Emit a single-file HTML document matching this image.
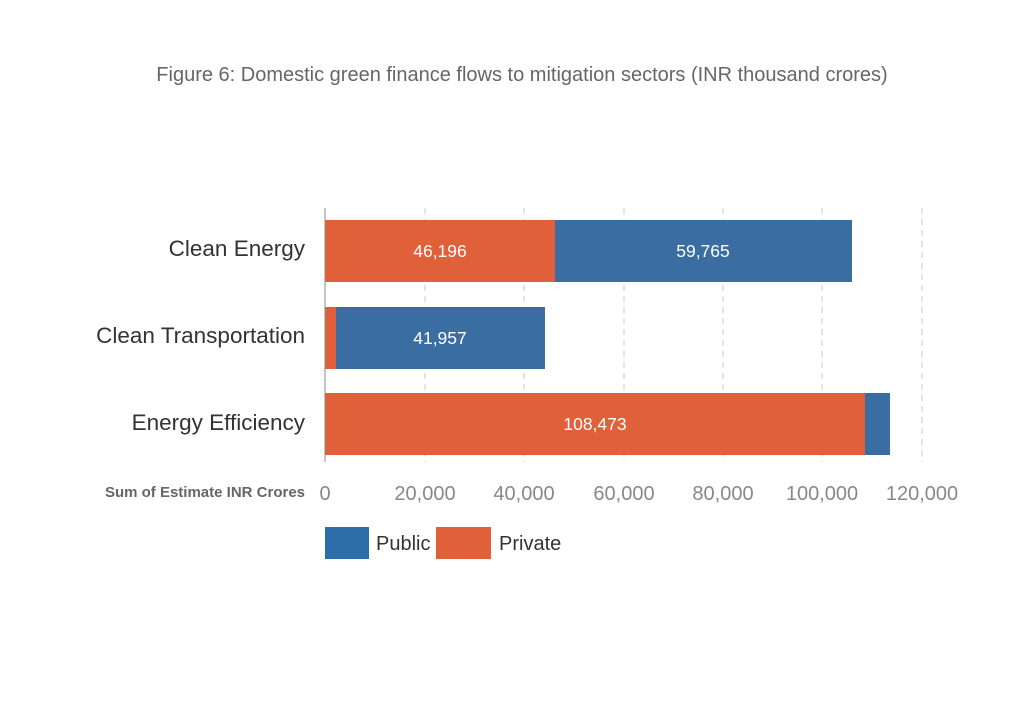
<!DOCTYPE html>
<html><head><meta charset="utf-8"><style>
body{margin:0;background:#fff;}
svg{display:block;font-family:"Liberation Sans",sans-serif;}
</style></head><body>
<svg width="1024" height="718" viewBox="0 0 1024 718">
<rect width="1024" height="718" fill="#fff"/>
<text x="522" y="81" text-anchor="middle" font-size="20" fill="#666">Figure 6: Domestic green finance flows to mitigation sectors (INR thousand crores)</text>
<g stroke="#c8c8c8" stroke-width="1" stroke-dasharray="6,5">
<line x1="425" y1="208" x2="425" y2="462"/>
<line x1="524" y1="208" x2="524" y2="462"/>
<line x1="624" y1="208" x2="624" y2="462"/>
<line x1="723" y1="208" x2="723" y2="462"/>
<line x1="822" y1="208" x2="822" y2="462"/>
<line x1="922" y1="208" x2="922" y2="462"/>
</g>
<rect x="325" y="220" width="230" height="62" fill="#E0603A"/>
<rect x="555" y="220" width="297" height="62" fill="#3A6EA3"/>
<rect x="325" y="307" width="11" height="62" fill="#E0603A"/>
<rect x="336" y="307" width="209" height="62" fill="#3A6EA3"/>
<rect x="325" y="393" width="540" height="62" fill="#E0603A"/>
<rect x="865" y="393" width="25" height="62" fill="#3A6EA3"/>
<line x1="325" y1="208" x2="325" y2="462" stroke="#888" stroke-width="1"/>
<g font-size="17.5" fill="#fff" text-anchor="middle">
<text x="440" y="257">46,196</text>
<text x="703" y="257">59,765</text>
<text x="440" y="344">41,957</text>
<text x="595" y="430">108,473</text>
</g>
<g font-size="22.5" fill="#333" text-anchor="end">
<text x="305" y="256">Clean Energy</text>
<text x="305" y="343">Clean Transportation</text>
<text x="305" y="430">Energy Efficiency</text>
</g>
<text x="305" y="497" font-size="15" font-weight="bold" fill="#666" text-anchor="end">Sum of Estimate INR Crores</text>
<g font-size="20" fill="#888" text-anchor="middle">
<text x="325" y="500">0</text>
<text x="425" y="500">20,000</text>
<text x="524" y="500">40,000</text>
<text x="624" y="500">60,000</text>
<text x="723" y="500">80,000</text>
<text x="822" y="500">100,000</text>
<text x="922" y="500">120,000</text>
</g>
<rect x="325" y="527" width="44" height="32" fill="#2E6EA8"/>
<text x="376" y="550" font-size="20" fill="#333">Public</text>
<rect x="436" y="527" width="55" height="32" fill="#E0603A"/>
<text x="499" y="550" font-size="20" fill="#333">Private</text>
</svg>
</body></html>
